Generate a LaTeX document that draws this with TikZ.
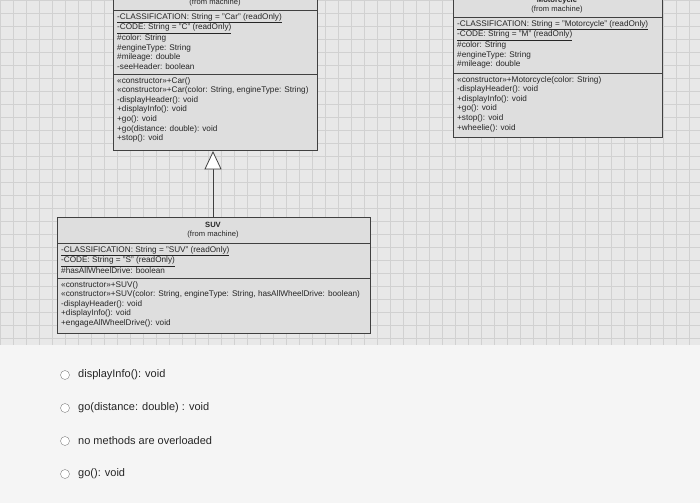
\documentclass[tikz,border=0pt]{standalone}
\usepackage{fontspec}
\setmainfont{Liberation Sans}
\begin{document}
\begin{tikzpicture}[x=1pt,y=-1pt,
  box/.style={draw=black!75,fill=black!13,line width=0.8pt},
  txt/.style={anchor=north west,inner sep=0pt,align=left,font=\fontsize{8.2}{9.6}\selectfont,text=black!85},
  ttl/.style={inner sep=0pt,font=\fontsize{7.6}{8}\selectfont,text=black!85},
  opt/.style={anchor=west,inner sep=0pt,font=\fontsize{11}{12}\selectfont,text=black!85},
  radio/.style={draw=black!50,circle,minimum size=9pt,inner sep=0pt,fill=white}]
\useasboundingbox (0,0) rectangle (700,503);
\fill[black!9] (0,0) rectangle (700,345);
\foreach \gx in {0,13,...,700} \draw[black!18,line width=0.4pt] (\gx,0) -- (\gx,345);
\foreach \gy in {0,13,...,345} \draw[black!18,line width=0.4pt] (0,\gy) -- (700,\gy);
\fill[white!96!black] (0,345) rectangle (700,503);
% Car
\draw[box] (113,-5) rectangle (317,150);
\draw[black!75,line width=0.8pt] (113,10) -- (317,10) (113,74) -- (317,74);
\node[ttl] (carfrom) at (215,3) {(from machine)};
\node[txt] (caratt) at (117,13) {\underline{-CLASSIFICATION: String = "Car" (readOnly)}\\\underline{-CODE: String = "C" (readOnly)}\\\#color: String\\\#engineType: String\\\#mileage: double\\-seeHeader: boolean};
\node[txt] (carmeth) at (117,77) {«constructor»+Car()\\«constructor»+Car(color: String, engineType: String)\\-displayHeader(): void\\+displayInfo(): void\\+go(): void\\+go(distance: double): void\\+stop(): void};
% Motorcycle
\draw[box] (453,-5) rectangle (662,137);
\draw[black!75,line width=0.8pt] (453,17) -- (662,17) (453,73) -- (662,73);
\node[ttl] (mname) at (557,1) {\textbf{Motorcycle}};
\node[ttl] (mfrom) at (557,10) {(from machine)};
\node[txt] (matt) at (457,20) {\underline{-CLASSIFICATION: String = "Motorcycle" (readOnly)}\\\underline{-CODE: String = "M" (readOnly)}\\\#color: String\\\#engineType: String\\\#mileage: double};
\node[txt] (mmeth) at (457,76) {«constructor»+Motorcycle(color: String)\\-displayHeader(): void\\+displayInfo(): void\\+go(): void\\+stop(): void\\+wheelie(): void};
% SUV
\draw[box] (57,217) rectangle (370,333);
\draw[black!75,line width=0.8pt] (57,243) -- (370,243) (57,278) -- (370,278);
\node[ttl] (sname) at (213,225) {\textbf{SUV}};
\node[ttl] (sfrom) at (213,235) {(from machine)};
\node[txt] (satt) at (61,246) {\underline{-CLASSIFICATION: String = "SUV" (readOnly)}\\\underline{-CODE: String = "S" (readOnly)}\\\#hasAllWheelDrive: boolean};
\node[txt] (smeth) at (61,281) {«constructor»+SUV()\\«constructor»+SUV(color: String, engineType: String, hasAllWheelDrive: boolean)\\-displayHeader(): void\\+displayInfo(): void\\+engageAllWheelDrive(): void};
% inheritance
\coordinate (tip) at (213,152);
\coordinate (sut) at (213,217);
\draw[black!75,line width=0.8pt] (213,169) -- (sut);
\draw[black!75,fill=white,line width=0.8pt] (tip) -- (205,169) -- (221,169) -- cycle;
% options
\foreach \y/\t [count=\i] in {375/{displayInfo(): void},408/{go(distance: double) : void},441/{no methods are overloaded},474/{go(): void}}{
  \node[radio] (r\i) at (65,\y) {};
  \node[opt] (o\i) at (78,\y) {\t};
}
\end{tikzpicture}
\end{document}
